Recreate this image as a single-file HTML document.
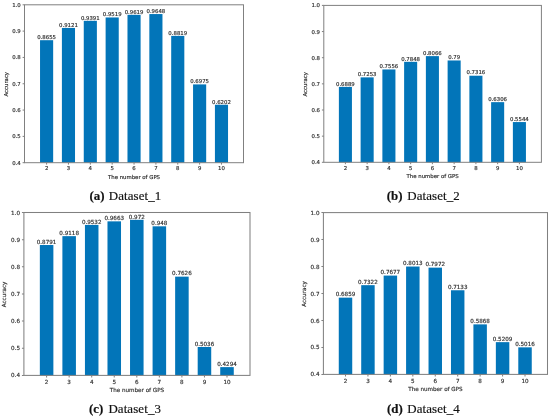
<!DOCTYPE html>
<html lang="en"><head><meta charset="utf-8"><title>Accuracy vs number of GPS</title>
<style>
html,body{margin:0;padding:0;background:#fff;}
body{width:550px;height:418px;overflow:hidden;}
svg{display:block;}
.t{font-family:"DejaVu Sans","Liberation Sans",sans-serif;fill:#333;stroke:#333;stroke-width:0.18px;}
.cap{font-family:"Liberation Serif","DejaVu Serif",serif;fill:#111;stroke:#111;stroke-width:0.18px;font-size:12.9px;}
.cap .b{font-weight:bold;}
</style></head><body>
<svg width="550" height="418" viewBox="0 0 550 418">
<rect width="550" height="418" fill="#fff"/>
<g id="chart-a">
<rect x="40.04" y="40.2" width="13.12" height="122.5" fill="#0275B9"/>
<rect x="61.9" y="27.93" width="13.12" height="134.77" fill="#0275B9"/>
<rect x="83.76" y="20.83" width="13.12" height="141.87" fill="#0275B9"/>
<rect x="105.62" y="17.46" width="13.12" height="145.24" fill="#0275B9"/>
<rect x="127.48" y="14.83" width="13.12" height="147.87" fill="#0275B9"/>
<rect x="149.34" y="14.06" width="13.12" height="148.64" fill="#0275B9"/>
<rect x="171.2" y="35.88" width="13.12" height="126.82" fill="#0275B9"/>
<rect x="193.06" y="84.41" width="13.12" height="78.29" fill="#0275B9"/>
<rect x="214.92" y="104.75" width="13.12" height="57.95" fill="#0275B9"/>
<rect x="24.5" y="4.8" width="219" height="157.9" fill="none" stroke="#808080" stroke-width="1"/>
<path d="M24.5 162.7h-1.9M24.5 136.38h-1.9M24.5 110.07h-1.9M24.5 83.75h-1.9M24.5 57.43h-1.9M24.5 31.12h-1.9M24.5 4.8h-1.9M46.6 162.7v1.9M68.46 162.7v1.9M90.32 162.7v1.9M112.18 162.7v1.9M134.04 162.7v1.9M155.9 162.7v1.9M177.76 162.7v1.9M199.62 162.7v1.9M221.48 162.7v1.9" stroke="#808080" stroke-width="1" fill="none"/>
<g class="t" font-size="5.38">
<text x="20.75" y="164.66" text-anchor="end">0.4</text>
<text x="20.75" y="138.34" text-anchor="end">0.5</text>
<text x="20.75" y="112.03" text-anchor="end">0.6</text>
<text x="20.75" y="85.71" text-anchor="end">0.7</text>
<text x="20.75" y="59.39" text-anchor="end">0.8</text>
<text x="20.75" y="33.08" text-anchor="end">0.9</text>
<text x="20.75" y="6.76" text-anchor="end">1.0</text>
<text x="46.6" y="170.47" text-anchor="middle">2</text>
<text x="68.46" y="170.47" text-anchor="middle">3</text>
<text x="90.32" y="170.47" text-anchor="middle">4</text>
<text x="112.18" y="170.47" text-anchor="middle">5</text>
<text x="134.04" y="170.47" text-anchor="middle">6</text>
<text x="155.9" y="170.47" text-anchor="middle">7</text>
<text x="177.76" y="170.47" text-anchor="middle">8</text>
<text x="199.62" y="170.47" text-anchor="middle">9</text>
<text x="221.48" y="170.47" text-anchor="middle">10</text>
<text x="46.6" y="38.95" text-anchor="middle">0.8655</text>
<text x="68.46" y="26.68" text-anchor="middle">0.9121</text>
<text x="90.32" y="19.58" text-anchor="middle">0.9391</text>
<text x="112.18" y="16.21" text-anchor="middle">0.9519</text>
<text x="134.04" y="13.58" text-anchor="middle">0.9619</text>
<text x="155.9" y="12.81" text-anchor="middle">0.9648</text>
<text x="177.76" y="34.63" text-anchor="middle">0.8819</text>
<text x="199.62" y="83.16" text-anchor="middle">0.6975</text>
<text x="221.48" y="103.5" text-anchor="middle">0.6202</text>
<text x="134" y="178.7" text-anchor="middle">The number of GPS</text>
<text transform="translate(7.8 84.25) rotate(-90)" text-anchor="middle">Accuracy</text>
</g>
<text class="cap" y="199.6"><tspan class="b" x="89.5">(a)</tspan><tspan x="108.8" letter-spacing="0.12">Dataset_1</tspan></text>
</g>
<g id="chart-b">
<rect x="338.88" y="86.9" width="13.05" height="75.4" fill="#0275B9"/>
<rect x="360.62" y="77.38" width="13.05" height="84.92" fill="#0275B9"/>
<rect x="382.38" y="69.46" width="13.05" height="92.84" fill="#0275B9"/>
<rect x="404.12" y="61.82" width="13.05" height="100.48" fill="#0275B9"/>
<rect x="425.88" y="56.12" width="13.05" height="106.18" fill="#0275B9"/>
<rect x="447.62" y="60.47" width="13.05" height="101.84" fill="#0275B9"/>
<rect x="469.38" y="75.74" width="13.05" height="86.56" fill="#0275B9"/>
<rect x="491.12" y="102.15" width="13.05" height="60.15" fill="#0275B9"/>
<rect x="512.88" y="122.07" width="13.05" height="40.23" fill="#0275B9"/>
<rect x="323.8" y="5.4" width="217.6" height="156.9" fill="none" stroke="#808080" stroke-width="1"/>
<path d="M323.8 162.3h-1.9M323.8 136.15h-1.9M323.8 110h-1.9M323.8 83.85h-1.9M323.8 57.7h-1.9M323.8 31.55h-1.9M323.8 5.4h-1.9M345.4 162.3v1.9M367.15 162.3v1.9M388.9 162.3v1.9M410.65 162.3v1.9M432.4 162.3v1.9M454.15 162.3v1.9M475.9 162.3v1.9M497.65 162.3v1.9M519.4 162.3v1.9" stroke="#808080" stroke-width="1" fill="none"/>
<g class="t" font-size="5.38">
<text x="320.05" y="164.26" text-anchor="end">0.4</text>
<text x="320.05" y="138.11" text-anchor="end">0.5</text>
<text x="320.05" y="111.96" text-anchor="end">0.6</text>
<text x="320.05" y="85.81" text-anchor="end">0.7</text>
<text x="320.05" y="59.66" text-anchor="end">0.8</text>
<text x="320.05" y="33.51" text-anchor="end">0.9</text>
<text x="320.05" y="7.36" text-anchor="end">1.0</text>
<text x="345.4" y="170.07" text-anchor="middle">2</text>
<text x="367.15" y="170.07" text-anchor="middle">3</text>
<text x="388.9" y="170.07" text-anchor="middle">4</text>
<text x="410.65" y="170.07" text-anchor="middle">5</text>
<text x="432.4" y="170.07" text-anchor="middle">6</text>
<text x="454.15" y="170.07" text-anchor="middle">7</text>
<text x="475.9" y="170.07" text-anchor="middle">8</text>
<text x="497.65" y="170.07" text-anchor="middle">9</text>
<text x="519.4" y="170.07" text-anchor="middle">10</text>
<text x="345.4" y="85.65" text-anchor="middle">0.6889</text>
<text x="367.15" y="76.13" text-anchor="middle">0.7253</text>
<text x="388.9" y="68.21" text-anchor="middle">0.7556</text>
<text x="410.65" y="60.57" text-anchor="middle">0.7848</text>
<text x="432.4" y="54.87" text-anchor="middle">0.8066</text>
<text x="454.15" y="59.22" text-anchor="middle">0.79</text>
<text x="475.9" y="74.49" text-anchor="middle">0.7316</text>
<text x="497.65" y="100.9" text-anchor="middle">0.6306</text>
<text x="519.4" y="120.82" text-anchor="middle">0.5544</text>
<text x="432.6" y="178.3" text-anchor="middle">The number of GPS</text>
<text transform="translate(307.1 84.35) rotate(-90)" text-anchor="middle">Accuracy</text>
</g>
<text class="cap" y="199.6"><tspan class="b" x="386.7">(b)</tspan><tspan x="407.3" letter-spacing="0.12">Dataset_2</tspan></text>
</g>
<g id="chart-c">
<rect x="39.84" y="245.02" width="13.53" height="130.38" fill="#0275B9"/>
<rect x="62.39" y="236.15" width="13.53" height="139.25" fill="#0275B9"/>
<rect x="84.94" y="224.91" width="13.53" height="150.49" fill="#0275B9"/>
<rect x="107.48" y="221.35" width="13.53" height="154.05" fill="#0275B9"/>
<rect x="130.04" y="219.8" width="13.53" height="155.6" fill="#0275B9"/>
<rect x="152.59" y="226.32" width="13.53" height="149.08" fill="#0275B9"/>
<rect x="175.14" y="276.65" width="13.53" height="98.75" fill="#0275B9"/>
<rect x="197.69" y="346.97" width="13.53" height="28.43" fill="#0275B9"/>
<rect x="220.24" y="367.12" width="13.53" height="8.28" fill="#0275B9"/>
<rect x="23.9" y="212.5" width="226.1" height="162.9" fill="none" stroke="#808080" stroke-width="1.04"/>
<path d="M23.9 375.4h-1.98M23.9 348.25h-1.98M23.9 321.1h-1.98M23.9 293.95h-1.98M23.9 266.8h-1.98M23.9 239.65h-1.98M23.9 212.5h-1.98M46.6 375.4v1.98M69.15 375.4v1.98M91.7 375.4v1.98M114.25 375.4v1.98M136.8 375.4v1.98M159.35 375.4v1.98M181.9 375.4v1.98M204.45 375.4v1.98M227 375.4v1.98" stroke="#808080" stroke-width="1.04" fill="none"/>
<g class="t" font-size="5.62">
<text x="19.98" y="377.45" text-anchor="end">0.4</text>
<text x="19.98" y="350.3" text-anchor="end">0.5</text>
<text x="19.98" y="323.15" text-anchor="end">0.6</text>
<text x="19.98" y="296" text-anchor="end">0.7</text>
<text x="19.98" y="268.85" text-anchor="end">0.8</text>
<text x="19.98" y="241.7" text-anchor="end">0.9</text>
<text x="19.98" y="214.55" text-anchor="end">1.0</text>
<text x="46.6" y="383.51" text-anchor="middle">2</text>
<text x="69.15" y="383.51" text-anchor="middle">3</text>
<text x="91.7" y="383.51" text-anchor="middle">4</text>
<text x="114.25" y="383.51" text-anchor="middle">5</text>
<text x="136.8" y="383.51" text-anchor="middle">6</text>
<text x="159.35" y="383.51" text-anchor="middle">7</text>
<text x="181.9" y="383.51" text-anchor="middle">8</text>
<text x="204.45" y="383.51" text-anchor="middle">9</text>
<text x="227" y="383.51" text-anchor="middle">10</text>
<text x="46.6" y="243.72" text-anchor="middle">0.8791</text>
<text x="69.15" y="234.84" text-anchor="middle">0.9118</text>
<text x="91.7" y="223.6" text-anchor="middle">0.9532</text>
<text x="114.25" y="220.04" text-anchor="middle">0.9663</text>
<text x="136.8" y="218.5" text-anchor="middle">0.972</text>
<text x="159.35" y="225.01" text-anchor="middle">0.948</text>
<text x="181.9" y="275.35" text-anchor="middle">0.7626</text>
<text x="204.45" y="345.67" text-anchor="middle">0.5036</text>
<text x="227" y="365.81" text-anchor="middle">0.4294</text>
<text x="136.95" y="392.11" text-anchor="middle">The number of GPS</text>
<text transform="translate(6.46 294.45) rotate(-90)" text-anchor="middle">Accuracy</text>
</g>
<text class="cap" y="413.1"><tspan class="b" x="88.9">(c)</tspan><tspan x="108.4" letter-spacing="0.12">Dataset_3</tspan></text>
</g>
<g id="chart-d">
<rect x="338.77" y="297.65" width="13.46" height="76.75" fill="#0275B9"/>
<rect x="361.21" y="285.17" width="13.46" height="89.23" fill="#0275B9"/>
<rect x="383.65" y="275.59" width="13.46" height="98.81" fill="#0275B9"/>
<rect x="406.09" y="266.53" width="13.46" height="107.87" fill="#0275B9"/>
<rect x="428.53" y="267.64" width="13.46" height="106.76" fill="#0275B9"/>
<rect x="450.97" y="290.26" width="13.46" height="84.14" fill="#0275B9"/>
<rect x="473.41" y="324.38" width="13.46" height="50.02" fill="#0275B9"/>
<rect x="495.85" y="342.15" width="13.46" height="32.25" fill="#0275B9"/>
<rect x="518.29" y="347.35" width="13.46" height="27.05" fill="#0275B9"/>
<rect x="323.4" y="212.6" width="224.1" height="161.8" fill="none" stroke="#808080" stroke-width="1.04"/>
<path d="M323.4 374.4h-1.98M323.4 347.43h-1.98M323.4 320.47h-1.98M323.4 293.5h-1.98M323.4 266.53h-1.98M323.4 239.57h-1.98M323.4 212.6h-1.98M345.5 374.4v1.98M367.94 374.4v1.98M390.38 374.4v1.98M412.82 374.4v1.98M435.26 374.4v1.98M457.7 374.4v1.98M480.14 374.4v1.98M502.58 374.4v1.98M525.02 374.4v1.98" stroke="#808080" stroke-width="1.04" fill="none"/>
<g class="t" font-size="5.62">
<text x="319.48" y="376.45" text-anchor="end">0.4</text>
<text x="319.48" y="349.48" text-anchor="end">0.5</text>
<text x="319.48" y="322.52" text-anchor="end">0.6</text>
<text x="319.48" y="295.55" text-anchor="end">0.7</text>
<text x="319.48" y="268.58" text-anchor="end">0.8</text>
<text x="319.48" y="241.62" text-anchor="end">0.9</text>
<text x="319.48" y="214.65" text-anchor="end">1.0</text>
<text x="345.5" y="382.51" text-anchor="middle">2</text>
<text x="367.94" y="382.51" text-anchor="middle">3</text>
<text x="390.38" y="382.51" text-anchor="middle">4</text>
<text x="412.82" y="382.51" text-anchor="middle">5</text>
<text x="435.26" y="382.51" text-anchor="middle">6</text>
<text x="457.7" y="382.51" text-anchor="middle">7</text>
<text x="480.14" y="382.51" text-anchor="middle">8</text>
<text x="502.58" y="382.51" text-anchor="middle">9</text>
<text x="525.02" y="382.51" text-anchor="middle">10</text>
<text x="345.5" y="296.35" text-anchor="middle">0.6859</text>
<text x="367.94" y="283.86" text-anchor="middle">0.7322</text>
<text x="390.38" y="274.29" text-anchor="middle">0.7677</text>
<text x="412.82" y="265.23" text-anchor="middle">0.8013</text>
<text x="435.26" y="266.33" text-anchor="middle">0.7972</text>
<text x="457.7" y="288.96" text-anchor="middle">0.7133</text>
<text x="480.14" y="323.07" text-anchor="middle">0.5868</text>
<text x="502.58" y="340.84" text-anchor="middle">0.5209</text>
<text x="525.02" y="346.05" text-anchor="middle">0.5016</text>
<text x="435.45" y="391.11" text-anchor="middle">The number of GPS</text>
<text transform="translate(305.96 294) rotate(-90)" text-anchor="middle">Accuracy</text>
</g>
<text class="cap" y="413.1"><tspan class="b" x="387">(d)</tspan><tspan x="407.3" letter-spacing="0.12">Dataset_4</tspan></text>
</g>
</svg></body></html>
